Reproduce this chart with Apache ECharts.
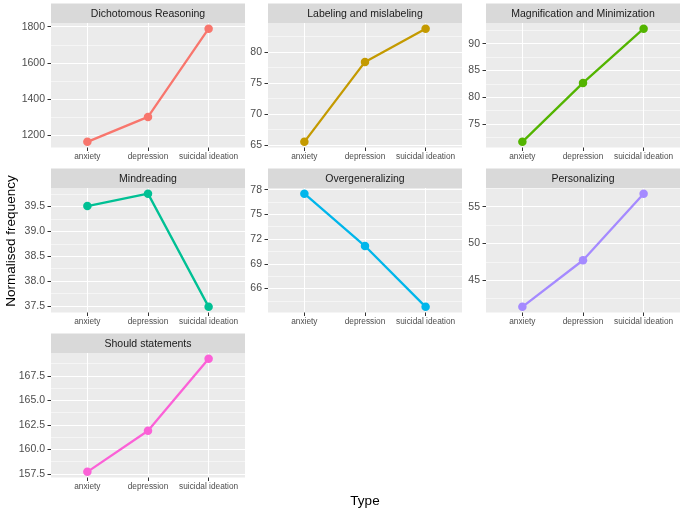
<!DOCTYPE html>
<html>
<head>
<meta charset="utf-8">
<script src="https://cdn.jsdelivr.net/npm/echarts@6/dist/echarts.min.js"></script>
<style>
  html, body { margin: 0; padding: 0; background: #fff; }
  #chart { width: 685px; height: 511px; }
</style>
</head>
<body>
<div id="chart"></div>
<script>
  // data
  var types = ['anxiety', 'depression', 'suicidal ideation'];
  var panelNames = ['Dichotomous Reasoning', 'Labeling and mislabeling', 'Magnification and Minimization',
                    'Mindreading', 'Overgeneralizing', 'Personalizing', 'Should statements'];

  var dichotomous = [1163, 1301, 1789];
  var labeling = [65.55, 78.4, 83.74];
  var magnification = [71.64, 82.66, 92.8];
  var mindreading = [39.51, 39.76, 37.48];
  var overgeneralizing = [77.52, 71.16, 63.77];
  var personalizing = [41.38, 47.72, 56.77];
  var shouldStatements = [157.7, 161.9, 169.27];

  // y tick labels per panel
  var ticksDichotomous = [1200, 1400, 1600, 1800];
  var ticksLabeling = [65, 70, 75, 80];
  var ticksMagnification = [75, 80, 85, 90];
  var ticksMindreading = [37.5, 38, 38.5, 39, 39.5];
  var ticksOvergeneralizing = [66, 69, 72, 75, 78];
  var ticksPersonalizing = [45, 50, 55];
  var ticksShould = [157.5, 160, 162.5, 165, 167.5];
  var tickDigits = [0, 0, 0, 1, 0, 0, 1];

  var colors = ['#F8766D', '#C49A00', '#53B400', '#00C094', '#00B6EB', '#A58AFF', '#FB61D7'];

  var values = [dichotomous, labeling, magnification, mindreading, overgeneralizing, personalizing, shouldStatements];
  var ticks = [ticksDichotomous, ticksLabeling, ticksMagnification, ticksMindreading, ticksOvergeneralizing, ticksPersonalizing, ticksShould];

  var chartDom = document.getElementById('chart');
  var myChart = echarts.init(chartDom, null, { renderer: 'canvas' });

  var font = 'Liberation Sans, Arial, Helvetica, sans-serif';
  var colLeft = [51, 268, 486];
  var stripTop = [3.5, 168.5, 333.5];
  var stripH = 19.5;
  var panelW = 194;
  var panelH = 124.5;

  var grids = [], xAxes = [], yAxes = [], series = [], graphics = [];

  for (var i = 0; i < values.length; i++) {
    var col = i % 3, row = Math.floor(i / 3);
    var v = values[i];
    var lo = Math.min.apply(null, v), hi = Math.max.apply(null, v);
    var pad = (hi - lo) * 0.05;
    var yMin = lo - pad, yMax = hi + pad;

    var major = ticks[i];
    var step = major[1] - major[0];
    var minor = [];
    for (var m = major[0] - step / 2; m <= yMax; m += step) {
      if (m >= yMin) minor.push(m);
    }

    grids.push({
      left: colLeft[col], top: stripTop[row] + stripH,
      width: panelW, height: panelH,
      show: true, backgroundColor: '#EBEBEB', borderWidth: 0,
      containLabel: false, outerBoundsMode: 'none'
    });

    xAxes.push({
      type: 'value', gridIndex: i, min: 0.4, max: 3.6,
      axisLine: { show: false },
      axisTick: { show: true, customValues: [1, 2, 3], length: 3.5, lineStyle: { color: '#333333', width: 1 } },
      axisLabel: {
        customValues: [1, 2, 3], margin: 5, fontSize: 8.3, fontFamily: font, color: '#4D4D4D',
        formatter: function (val) { return types[Math.round(val) - 1]; }
      },
      splitLine: { show: true, lineStyle: { color: '#FFFFFF', width: 1.1 } }
    });

    var digits = tickDigits[i];
    yAxes.push({
      type: 'value', gridIndex: i, min: yMin, max: yMax, z: 3,
      axisLine: { show: false },
      axisTick: { show: true, customValues: major, length: 3.5, lineStyle: { color: '#333333', width: 1 } },
      axisLabel: {
        customValues: major, margin: 6, fontSize: 10.5, fontFamily: font, color: '#4D4D4D',
        formatter: (function (d) { return function (val) { return val.toFixed(d); }; })(digits)
      },
      splitLine: { show: true, lineStyle: { color: '#FFFFFF', width: 1.1 } }
    });
    // minor grid lines
    yAxes.push({
      type: 'value', gridIndex: i, min: yMin, max: yMax, z: 1,
      axisLine: { show: false },
      axisTick: { show: false, customValues: minor },
      axisLabel: { show: false, customValues: minor },
      splitLine: { show: true, lineStyle: { color: '#FFFFFF', width: 0.5 } }
    });

    series.push({
      type: 'line', xAxisIndex: i, yAxisIndex: 2 * i,
      data: v.map(function (y, k) { return [k + 1, y]; }),
      symbol: 'circle', symbolSize: 8.5,
      lineStyle: { color: colors[i], width: 2.3 },
      itemStyle: { color: colors[i] },
      z: 5
    });

    graphics.push({
      type: 'rect',
      shape: { x: colLeft[col], y: stripTop[row], width: panelW, height: stripH },
      style: { fill: '#D9D9D9' }
    });
    graphics.push({
      type: 'text',
      x: colLeft[col] + panelW / 2, y: stripTop[row] + stripH / 2 + 0.5,
      style: {
        text: panelNames[i], fill: '#1A1A1A', fontSize: 10.5, fontFamily: font,
        align: 'center', verticalAlign: 'middle'
      }
    });
  }

  graphics.push({
    type: 'text', x: 11, y: 241, rotation: Math.PI / 2,
    style: { text: 'Normalised frequency', fill: '#000000', fontSize: 13.5, fontFamily: font, align: 'center', verticalAlign: 'middle' }
  });
  graphics.push({
    type: 'text', x: 365, y: 501,
    style: { text: 'Type', fill: '#000000', fontSize: 13.5, fontFamily: font, align: 'center', verticalAlign: 'middle' }
  });

  var option = {
    animation: false,
    backgroundColor: '#FFFFFF',
    grid: grids,
    xAxis: xAxes,
    yAxis: yAxes,
    series: series,
    graphic: graphics
  };

  myChart.setOption(option);
  window.addEventListener('resize', myChart.resize);
</script>
</body>
</html>
